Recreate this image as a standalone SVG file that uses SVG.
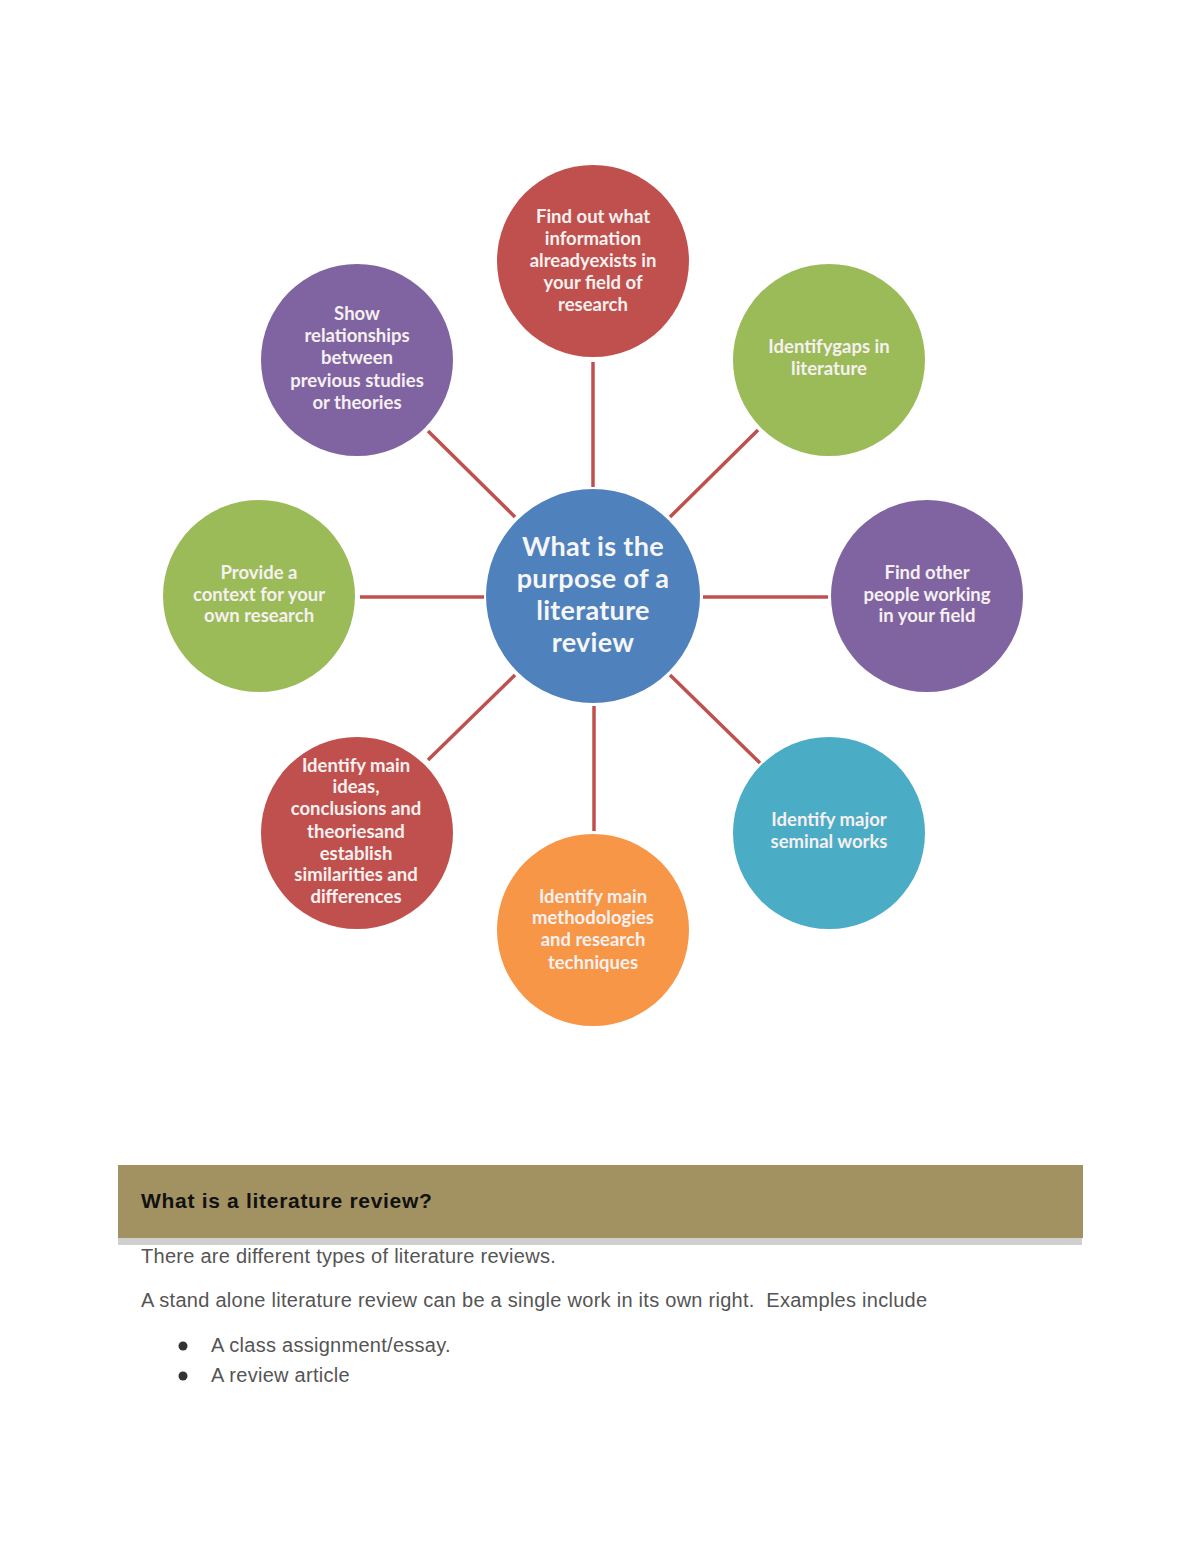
<svg xmlns="http://www.w3.org/2000/svg" width="1200" height="1553" viewBox="0 0 1200 1553">
<style>
.nt{font-family:Lato,"Open Sans","Liberation Sans",sans-serif;font-weight:bold;font-size:18.5px;fill:#F6F0F0;text-anchor:middle}
.ct{font-family:Lato,"Open Sans","Liberation Sans",sans-serif;font-weight:bold;font-size:27px;letter-spacing:0.3px;fill:#F6F6F6;text-anchor:middle}
.edge{stroke:#C0504D;stroke-width:3.5;fill:none}
.body{font-family:"Liberation Sans",Arial,sans-serif;font-size:20px;letter-spacing:0.27px;fill:#555555}
</style>
<rect width="1200" height="1553" fill="#FFFFFF"/>
<g id="connectors">
<line class="edge" x1="593" y1="362" x2="593" y2="487"/>
<line class="edge" x1="670" y1="517" x2="758" y2="430"/>
<line class="edge" x1="703" y1="597" x2="828" y2="597"/>
<line class="edge" x1="670" y1="675" x2="760" y2="763"/>
<line class="edge" x1="594" y1="706" x2="594" y2="831"/>
<line class="edge" x1="515" y1="675" x2="428" y2="760"/>
<line class="edge" x1="360" y1="597" x2="484" y2="597"/>
<line class="edge" x1="428" y1="431" x2="515" y2="517"/>
</g>
<g id="center">
<circle cx="593" cy="596" r="107" fill="#4F81BD"/>
<text class="ct" x="593" y="556">What is the</text>
<text class="ct" x="593" y="588">purpose of a</text>
<text class="ct" x="593" y="620">literature</text>
<text class="ct" x="593" y="652">review</text>
</g>
<g id="n-top">
<circle cx="593" cy="261" r="96" fill="#C0504D"/>
<text class="nt" x="593" y="223">Find out what</text>
<text class="nt" x="593" y="245">information</text>
<text class="nt" x="593" y="267">alreadyexists in</text>
<text class="nt" x="593" y="289">your field of</text>
<text class="nt" x="593" y="311">research</text>
</g>
<g id="n-topright">
<circle cx="829" cy="360" r="96" fill="#9BBB59"/>
<text class="nt" x="829" y="353">Identifygaps in</text>
<text class="nt" x="829" y="375">literature</text>
</g>
<g id="n-right">
<circle cx="927" cy="596" r="96" fill="#8064A2"/>
<text class="nt" x="927" y="579">Find other</text>
<text class="nt" x="927" y="601">people working</text>
<text class="nt" x="927" y="622">in your field</text>
</g>
<g id="n-bottomright">
<circle cx="829" cy="833" r="96" fill="#4BACC6"/>
<text class="nt" x="829" y="826">Identify major</text>
<text class="nt" x="829" y="848">seminal works</text>
</g>
<g id="n-bottom">
<circle cx="593" cy="930" r="96" fill="#F79646"/>
<text class="nt" x="593" y="903">Identify main</text>
<text class="nt" x="593" y="924">methodologies</text>
<text class="nt" x="593" y="946">and research</text>
<text class="nt" x="593" y="969">techniques</text>
</g>
<g id="n-bottomleft">
<circle cx="357" cy="833" r="96" fill="#C0504D"/>
<text class="nt" x="356" y="772">Identify main</text>
<text class="nt" x="356" y="793">ideas,</text>
<text class="nt" x="356" y="815">conclusions and</text>
<text class="nt" x="356" y="838">theoriesand</text>
<text class="nt" x="356" y="860">establish</text>
<text class="nt" x="356" y="881">similarities and</text>
<text class="nt" x="356" y="903">differences</text>
</g>
<g id="n-left">
<circle cx="259" cy="596" r="96" fill="#9BBB59"/>
<text class="nt" x="259" y="579">Provide a</text>
<text class="nt" x="259" y="601">context for your</text>
<text class="nt" x="259" y="622">own research</text>
</g>
<g id="n-topleft">
<circle cx="357" cy="360" r="96" fill="#8064A2"/>
<text class="nt" x="357" y="320">Show</text>
<text class="nt" x="357" y="342">relationships</text>
<text class="nt" x="357" y="364">between</text>
<text class="nt" x="357" y="387">previous studies</text>
<text class="nt" x="357" y="409">or theories</text>
</g>
<g id="text-section">
<rect x="118" y="1238" width="964" height="7" fill="#CFCFCF"/>
<rect x="118" y="1165" width="965" height="73" fill="#A39261"/>
<text x="141" y="1208" font-family="'Liberation Sans',Arial,sans-serif" font-weight="bold" font-size="21" letter-spacing="0.7" fill="#111111">What is a literature review?</text>
<text class="body" x="141" y="1263">There are different types of literature reviews.</text>
<text class="body" x="141" y="1307" xml:space="preserve">A stand alone literature review can be a single work in its own right.  Examples include</text>
<circle cx="183" cy="1346" r="4.5" fill="#333333"/>
<circle cx="183" cy="1376" r="4.5" fill="#333333"/>
<text class="body" x="211" y="1352">A class assignment/essay.</text>
<text class="body" x="211" y="1382">A review article</text>
</g>
</svg>
